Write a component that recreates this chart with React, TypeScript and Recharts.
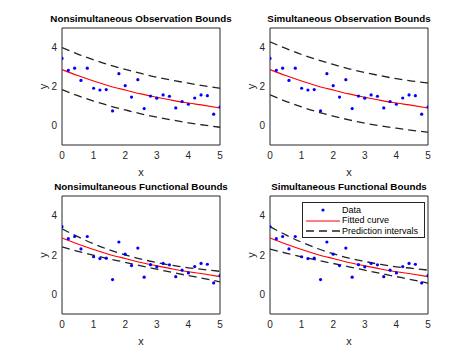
import * as React from "react"
import { ComposedChart, Line, Scatter, XAxis, YAxis, ReferenceArea } from "recharts"

const xData = [0, 0.2, 0.4, 0.6, 0.8, 1, 1.2, 1.4, 1.6, 1.8, 2, 2.2, 2.4, 2.6, 2.8, 3, 3.2, 3.4, 3.6, 3.8, 4, 4.2, 4.4, 4.6, 4.8, 5]
const yData = [3.44, 2.83, 2.94, 2.31, 2.94, 1.91, 1.82, 1.84, 0.75, 2.66, 2.04, 1.46, 2.35, 0.87, 1.51, 1.4, 1.57, 1.5, 0.9, 1.23, 1.09, 1.41, 1.57, 1.53, 0.58, 0.95]

const xGrid = [0, 0.5, 1, 1.5, 2, 2.5, 3, 3.5, 4, 4.5, 5]
const fitted = [2.87, 2.56, 2.28, 2.03, 1.82, 1.62, 1.45, 1.29, 1.15, 1.03, 0.9]

const nsObsUpper = [4.0, 3.66, 3.37, 3.1, 2.88, 2.67, 2.48, 2.32, 2.17, 2.03, 1.91]
const nsObsLower = [1.84, 1.53, 1.25, 1.01, 0.8, 0.6, 0.43, 0.28, 0.14, 0.02, -0.09]
const sObsUpper = [4.29, 3.95, 3.64, 3.37, 3.13, 2.91, 2.72, 2.55, 2.4, 2.28, 2.18]
const sObsLower = [1.57, 1.24, 0.95, 0.7, 0.48, 0.29, 0.12, -0.02, -0.14, -0.25, -0.34]
const nsFunUpper = [3.33, 2.93, 2.57, 2.26, 2.01, 1.79, 1.62, 1.47, 1.35, 1.26, 1.17]
const nsFunLower = [2.41, 2.19, 1.99, 1.8, 1.63, 1.45, 1.28, 1.11, 0.95, 0.8, 0.63]
const sFunUpper = [3.44, 3.02, 2.65, 2.33, 2.07, 1.84, 1.67, 1.52, 1.4, 1.32, 1.23]
const sFunLower = [2.3, 2.1, 1.91, 1.73, 1.57, 1.4, 1.23, 1.06, 0.9, 0.74, 0.57]

const xTicks = [0, 1, 2, 3, 4, 5]
const yTicks = [0, 2, 4]

const points = xData.map((x, i) => ({ x, y: yData[i] }))

const FONT = "'Liberation Sans', Arial, Helvetica, sans-serif"
const AXIS = "#262626"
const PLOT_W = 158
const DASH = "8 5"

const Dot = (props: any) => <circle cx={props.cx} cy={props.cy} r={1.6} fill="#0000ff" />

function Panel({
  title,
  upper,
  lower,
  left,
  top,
  plotH,
}: {
  title: string
  upper: number[]
  lower: number[]
  left: number
  top: number
  plotH: number
}) {
  const rows = xGrid.map((x, i) => ({ x, fit: fitted[i], upper: upper[i], lower: lower[i] }))
  const margin = { top: 28, right: 10, bottom: 12, left: 2 }
  const width = margin.left + 30 + PLOT_W + margin.right
  const height = margin.top + plotH + 20 + margin.bottom
  return (
    <div style={{ position: "absolute", left, top, width, height }}>
      <ComposedChart width={width} height={height} data={rows} margin={margin}>
        <ReferenceArea x1={0} x2={5} y1={-1} y2={5} fill="none" stroke={AXIS} strokeWidth={1} />
        <XAxis
          dataKey="x"
          type="number"
          domain={[0, 5]}
          ticks={xTicks}
          allowDataOverflow
          axisLine={false}
          tickLine={false}
          tickSize={5}
          tickMargin={2}
          height={20}
          tick={{ fontSize: 10, fill: AXIS, fontFamily: FONT }}
          label={{
            content: (p: any) => {
              const vb = p.viewBox
              return (
                <text x={vb.x + vb.width / 2} y={vb.y + 27} textAnchor="middle" dominantBaseline="central" fontSize={11} fill={AXIS} fontFamily={FONT}>
                  x
                </text>
              )
            },
          }}
        />
        <YAxis
          type="number"
          domain={[-1, 5]}
          ticks={yTicks}
          allowDataOverflow
          axisLine={false}
          tickLine={false}
          tickSize={4}
          tickMargin={1}
          width={30}
          tick={{ fontSize: 10, fill: AXIS, fontFamily: FONT }}
          label={{
            content: (p: any) => {
              const vb = p.viewBox
              const cx = vb.x + vb.width - 19
              const cy = vb.y + vb.height / 2
              return (
                <text x={cx} y={cy} transform={`rotate(-90 ${cx} ${cy})`} textAnchor="middle" dominantBaseline="central" fontSize={11} fill={AXIS} fontFamily={FONT}>
                  y
                </text>
              )
            },
          }}
        />
        <Scatter data={points} dataKey="y" shape={Dot} isAnimationActive={false} />
        <Line dataKey="fit" type="monotone" stroke="#ff0000" strokeWidth={1.1} dot={false} activeDot={false} isAnimationActive={false} />
        <Line dataKey="upper" type="monotone" stroke="#222" strokeWidth={1.3} strokeDasharray={DASH} dot={false} activeDot={false} isAnimationActive={false} />
        <Line dataKey="lower" type="monotone" stroke="#222" strokeWidth={1.3} strokeDasharray={DASH} dot={false} activeDot={false} isAnimationActive={false} />
      </ComposedChart>
      <div
        style={{
          position: "absolute",
          left: 32 + PLOT_W / 2 - 120,
          width: 240,
          top: 13,
          lineHeight: "12px",
          textAlign: "center",
          fontFamily: FONT,
          fontWeight: "bold",
          fontSize: 9.8,
          color: "#000",
          whiteSpace: "nowrap",
        }}
      >
        {title}
      </div>
    </div>
  )
}

function LegendBox() {
  const item = (label: string, sample: React.ReactNode) => (
    <div style={{ display: "flex", alignItems: "center", height: 10.5 }}>
      <svg width={36} height={10} style={{ display: "block" }}>
        {sample}
      </svg>
      <span style={{ marginLeft: 1 }}>{label}</span>
    </div>
  )
  return (
    <div
      style={{
        position: "absolute",
        left: 302,
        top: 202,
        width: 123,
        height: 36,
        border: `1px solid ${AXIS}`,
        background: "#fff",
        fontFamily: FONT,
        fontSize: 9,
        color: "#000",
        paddingTop: 2,
        paddingLeft: 2,
        boxSizing: "border-box",
        lineHeight: 1,
      }}
    >
      {item("Data", <circle cx={18} cy={5} r={1.6} fill="#0000ff" />)}
      {item("Fitted curve", <line x1={1} y1={5} x2={35} y2={5} stroke="#ff0000" strokeWidth={1.1} />)}
      {item("Prediction intervals", <line x1={1} y1={5} x2={35} y2={5} stroke="#222" strokeWidth={1.3} strokeDasharray={DASH} />)}
    </div>
  )
}

export default function App() {
  return (
    <div style={{ position: "absolute", left: 0, top: 0, width: 474, height: 355, background: "#fff", overflow: "hidden" }}>
      <Panel title="Nonsimultaneous Observation Bounds" upper={nsObsUpper} lower={nsObsLower} left={30} top={0} plotH={117} />
      <Panel title="Simultaneous Observation Bounds" upper={sObsUpper} lower={sObsLower} left={238} top={0} plotH={117} />
      <Panel title="Nonsimultaneous Functional Bounds" upper={nsFunUpper} lower={nsFunLower} left={30} top={168} plotH={118} />
      <Panel title="Simultaneous Functional Bounds" upper={sFunUpper} lower={sFunLower} left={238} top={168} plotH={118} />
      <LegendBox />
    </div>
  )
}
